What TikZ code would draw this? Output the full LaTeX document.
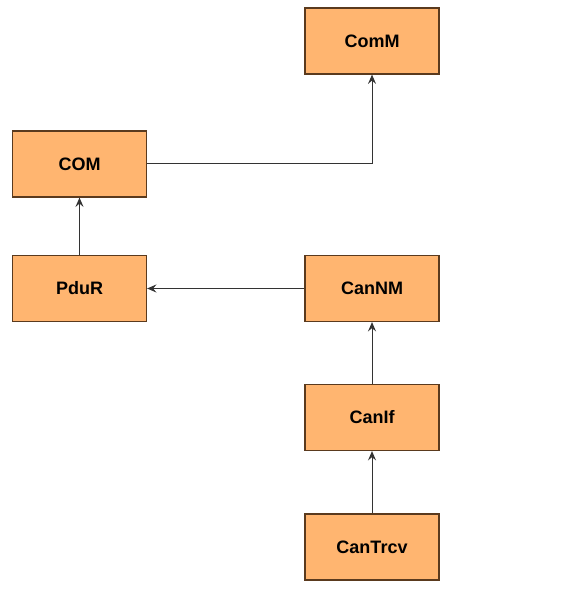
\documentclass[tikz,border=0pt]{standalone}
\usepackage{fontspec}
\setmainfont{Liberation Sans}
\usetikzlibrary{arrows.meta}
\definecolor{boxfill}{HTML}{FFB570}
\definecolor{boxline}{HTML}{5A3A1E}
\definecolor{wire}{HTML}{333333}
\begin{document}
\begin{tikzpicture}[x=0.75pt,y=-0.75pt,
  blk/.style={draw=boxline,fill=boxfill,line width=0.9pt,minimum width=100.5pt,minimum height=49.5pt,inner sep=0pt,font=\fontsize{13.5}{15}\selectfont\bfseries},
  wirearrow/.style={draw=wire,line width=0.75pt,-{Stealth[length=7pt,width=6pt,inset=2.5pt]}}]
\useasboundingbox (0,0) rectangle (576,591);
\node[blk] (comm) at (372,41) {ComM};
\node[blk] (com) at (79.5,164) {COM};
\node[blk] (pdur) at (79.5,288.5) {PduR};
\node[blk] (cannm) at (372,288.5) {CanNM};
\node[blk] (canif) at (372,417.5) {CanIf};
\node[blk] (cantrcv) at (372,547) {CanTrcv};
\draw[wirearrow] (com.east) -| (comm.south);
\draw[wirearrow] (pdur.north) -- (com.south);
\draw[wirearrow] (cannm.west) -- (pdur.east);
\draw[wirearrow] (canif.north) -- (cannm.south);
\draw[wirearrow] (cantrcv.north) -- (canif.south);
\end{tikzpicture}
\end{document}
